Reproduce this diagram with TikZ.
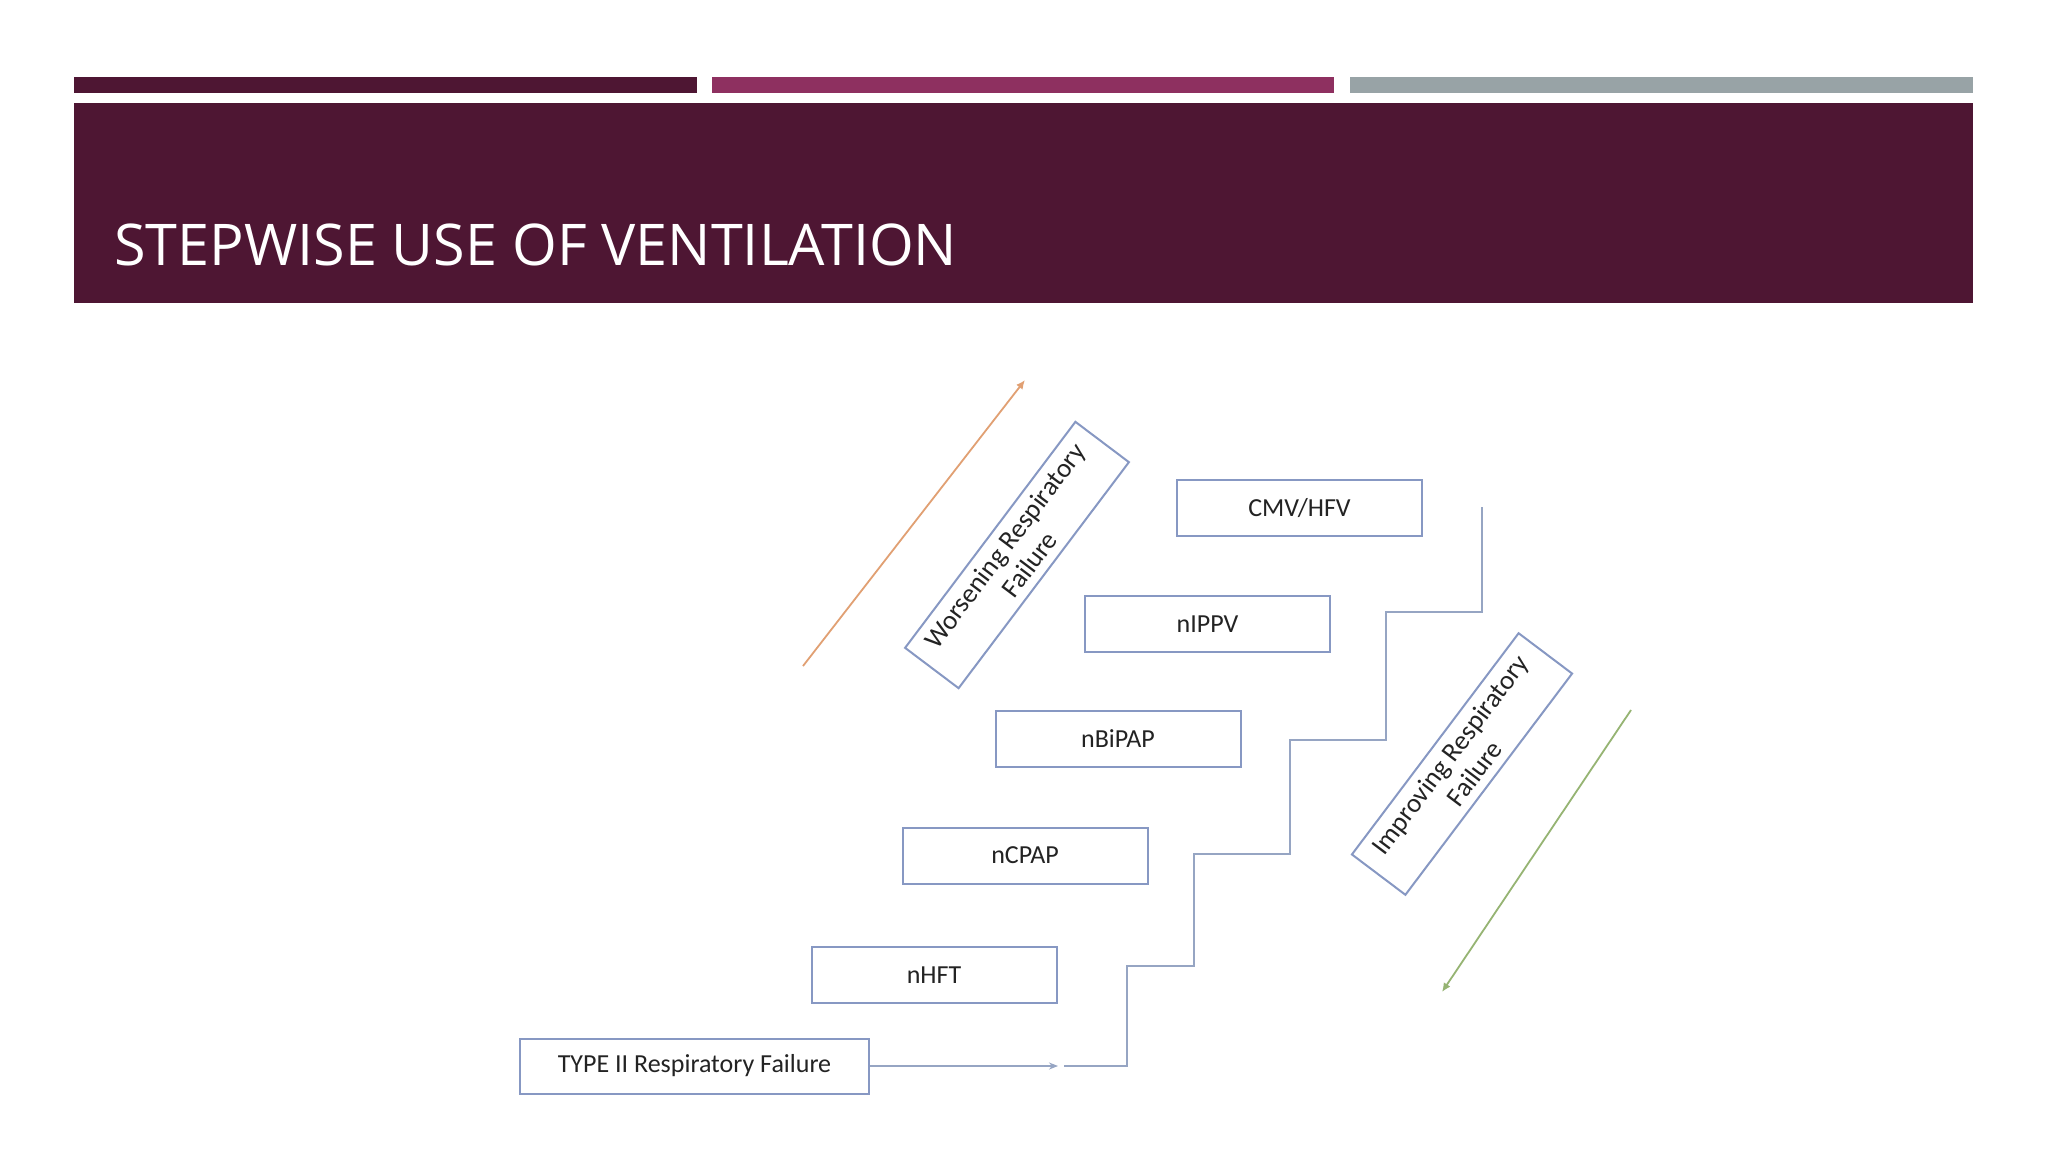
\documentclass[tikz,border=0pt]{standalone}
\usepackage{fontspec}
\setmainfont{Carlito}
\newfontfamily\titlefont{Open Sans}
\usetikzlibrary{arrows.meta}
\definecolor{darkplum}{RGB}{78,22,51}
\definecolor{magplum}{RGB}{142,48,96}
\definecolor{bargray}{RGB}{152,163,166}
\definecolor{boxline}{RGB}{135,152,195}
\definecolor{stairline}{RGB}{150,165,195}
\definecolor{orangeln}{RGB}{225,160,115}
\definecolor{greenln}{RGB}{150,180,115}
\definecolor{txt}{RGB}{35,35,35}
\tikzset{
  stepbox/.style={draw=boxline, line width=2pt, fill=white, minimum width=245pt, minimum height=56pt, inner sep=0pt, text=txt, font=\fontsize{26}{31}\selectfont},
  tiltbox/.style={draw=boxline, line width=2pt, minimum width=283pt, minimum height=67pt, inner sep=0pt, text=txt, align=center, font=\fontsize{27}{31}\selectfont, rotate=53},
  stair/.style={draw=stairline, line width=1.6pt},
  trendarrow/.style={line width=1.8pt, -{Latex[length=9pt,width=8pt]}}
}
\begin{document}
\begin{tikzpicture}[x=1pt,y=-1pt]
\useasboundingbox (0,0) rectangle (2048,1152);
\fill[white] (0,0) rectangle (2048,1152);
% header bars
\fill[darkplum] (74,77) rectangle (697,93);
\fill[magplum] (712,77) rectangle (1334,93);
\fill[bargray] (1350,77) rectangle (1973,93);
\fill[darkplum] (74,103) rectangle (1973,303);
\node[anchor=base west, inner sep=0pt, text=white, font=\titlefont\fontsize{57.5}{62}\selectfont] (title) at (114,265) {STEPWISE USE OF VENTILATION};
% boxes
\node[stepbox] (cmv) at (1299.5,508) {CMV/HFV};
\node[stepbox] (nippv) at (1207.5,624) {nIPPV};
\node[stepbox] (nbipap) at (1118,739) {nBiPAP};
\node[stepbox] (ncpap) at (1025,855.5) {nCPAP};
\node[stepbox] (nhft) at (934,975) {nHFT};
\node[stepbox, minimum width=349pt, minimum height=55pt] (type2) at (694.5,1066) {TYPE II Respiratory Failure};
% staircase
\coordinate (arrend) at (1058,1066);
\coordinate (s0) at (1064,1066);
\coordinate (s1) at (1127,1066);
\coordinate (s2) at (1127,966);
\coordinate (s3) at (1194,966);
\coordinate (s4) at (1194,854);
\coordinate (s5) at (1290,854);
\coordinate (s6) at (1290,740);
\coordinate (s7) at (1386,740);
\coordinate (s8) at (1386,612);
\coordinate (s9) at (1482,612);
\coordinate (s10) at (1482,507);
\draw[stair, -{Stealth[length=9pt,width=7pt]}] (type2.east) -- (arrend);
\draw[stair] (s0) -- (s1) -- (s2) -- (s3) -- (s4) -- (s5) -- (s6) -- (s7) -- (s8) -- (s9) -- (s10);
% tilted labels
\node[tiltbox] (worse) at (1017,555) {Worsening Respiratory\\Failure};
\node[tiltbox, minimum width=277pt] (improve) at (1462,764) {Improving Respiratory\\Failure};
% trend arrows
\coordinate (o1) at (803,666);
\coordinate (o2) at (1025,380);
\coordinate (g1) at (1631,710);
\coordinate (g2) at (1442,992);
\draw[trendarrow, draw=orangeln, fill=orangeln] (o1) -- (o2);
\draw[trendarrow, draw=greenln, fill=greenln] (g1) -- (g2);
\end{tikzpicture}
\end{document}
